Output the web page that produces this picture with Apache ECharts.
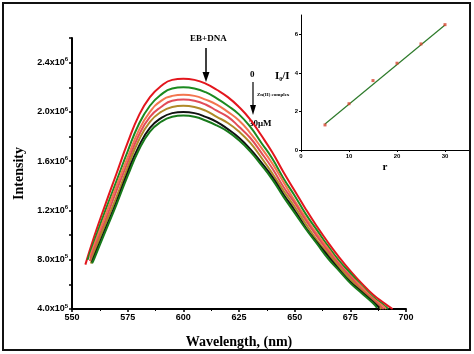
<!DOCTYPE html>
<html>
<head>
<meta charset="utf-8">
<script src="https://cdn.jsdelivr.net/npm/echarts@6/dist/echarts.min.js"></script>
<style>
  html, body { margin: 0; padding: 0; background: #fff; }
  #chart { width: 474px; height: 354px; }
</style>
</head>
<body>
<div id="chart"></div>
<script>
// emission spectra, [wavelength nm, intensity x10^6]
var red = [[556,0.76],[560,0.99],[565,1.25],[570,1.50],[575,1.75],[580,1.97],[585,2.12],[590,2.21],[595,2.26],[600,2.27],[605,2.26],[610,2.23],[615,2.18],[620,2.12],[625,2.04],[630,1.94],[635,1.81],[640,1.67],[645,1.51],[650,1.36],[655,1.21],[660,1.07],[665,0.94],[670,0.82],[675,0.71],[680,0.61],[685,0.52],[690,0.45],[694,0.40]];
var green1 = [[557,0.80],[560,0.95],[565,1.20],[570,1.44],[575,1.68],[580,1.90],[585,2.05],[590,2.14],[595,2.19],[600,2.20],[605,2.19],[610,2.16],[615,2.11],[620,2.05],[625,1.98],[630,1.88],[635,1.75],[640,1.62],[645,1.46],[650,1.32],[655,1.17],[660,1.04],[665,0.91],[670,0.79],[675,0.69],[680,0.59],[685,0.50],[690,0.43],[692,0.40]];
var salmon = [[558,0.82],[560,0.92],[565,1.16],[570,1.40],[575,1.63],[580,1.85],[585,2.00],[590,2.09],[595,2.13],[600,2.14],[605,2.13],[610,2.10],[615,2.06],[620,2.00],[625,1.93],[630,1.83],[635,1.71],[640,1.58],[645,1.43],[650,1.28],[655,1.14],[660,1.01],[665,0.89],[670,0.77],[675,0.67],[680,0.58],[685,0.49],[690,0.42],[691,0.40]];
var pink = [[558,0.79],[560,0.89],[565,1.12],[570,1.36],[575,1.59],[580,1.81],[585,1.96],[590,2.04],[595,2.09],[600,2.10],[605,2.09],[610,2.06],[615,2.01],[620,1.96],[625,1.88],[630,1.79],[635,1.67],[640,1.54],[645,1.39],[650,1.26],[655,1.12],[660,0.99],[665,0.87],[670,0.76],[675,0.66],[680,0.56],[685,0.48],[690,0.40]];
var olive = [[558.5,0.77],[560,0.86],[565,1.09],[570,1.31],[575,1.55],[580,1.77],[585,1.92],[590,2.00],[595,2.04],[600,2.05],[605,2.04],[610,2.01],[615,1.96],[620,1.91],[625,1.84],[630,1.75],[635,1.63],[640,1.50],[645,1.36],[650,1.23],[655,1.09],[660,0.96],[665,0.85],[670,0.74],[675,0.64],[680,0.55],[685,0.47],[689,0.40]];
var black = [[559,0.78],[560,0.83],[565,1.05],[570,1.27],[575,1.51],[580,1.72],[585,1.87],[590,1.95],[595,1.99],[600,2.00],[605,1.99],[610,1.96],[615,1.92],[620,1.86],[625,1.79],[630,1.70],[635,1.59],[640,1.47],[645,1.33],[650,1.20],[655,1.06],[660,0.94],[665,0.83],[670,0.72],[675,0.62],[680,0.54],[685,0.46],[688,0.41]];
var green2 = [[559,0.77],[560,0.81],[565,1.03],[570,1.25],[575,1.48],[580,1.69],[585,1.84],[590,1.92],[595,1.96],[600,1.97],[605,1.96],[610,1.93],[615,1.89],[620,1.84],[625,1.77],[630,1.68],[635,1.57],[640,1.45],[645,1.31],[650,1.18],[655,1.05],[660,0.93],[665,0.81],[670,0.71],[675,0.61],[680,0.53],[685,0.45],[687,0.41]];

// inset: Stern-Volmer plot
var rValues = [5, 10, 15, 20, 25, 30];
var ratioValues = [1.3, 2.4, 3.6, 4.5, 5.5, 6.5];
var fitX = [5, 30];
var fitY = [1.35, 6.48];

var yTickLabels = { 4: '4.0x10', 8: '8.0x10', 12: '1.2x10', 16: '1.6x10', 20: '2.0x10', 24: '2.4x10' };

var chart = echarts.init(document.getElementById('chart'));

function toAbs(arr) {
  return arr.map(function (p) { return [p[0], p[1] * 1e6]; });
}

function spectrum(data, color) {
  return {
    type: 'line',
    xAxisIndex: 0,
    yAxisIndex: 0,
    data: toAbs(data),
    smooth: true,
    showSymbol: false,
    lineStyle: { color: color, width: 2 },
    z: 3
  };
}

var boldLabel = { color: '#000', fontWeight: 'bold', fontFamily: 'Liberation Sans', fontSize: 9 };

chart.setOption({
  animation: false,
  backgroundColor: '#fff',
  grid: [
    { left: 72, right: 68, top: 38, bottom: 42 },
    { left: 301, right: 5, top: 15, bottom: 204 }
  ],
  xAxis: [{
    gridIndex: 0,
    type: 'value',
    min: 550,
    max: 700,
    interval: 25,
    name: 'Wavelength, (nm)',
    nameLocation: 'middle',
    nameGap: 26,
    nameTextStyle: { fontFamily: 'Liberation Serif', fontWeight: 'bold', fontSize: 14, color: '#000' },
    axisLine: { lineStyle: { color: '#000', width: 2 } },
    axisTick: { inside: false, length: 3, lineStyle: { color: '#000', width: 1.5 } },
    minorTick: { show: true, splitNumber: 2, length: 2, lineStyle: { color: '#000' } },
    splitLine: { show: false },
    axisLabel: Object.assign({ margin: 4 }, boldLabel)
  }, {
    gridIndex: 1,
    type: 'value',
    min: 0,
    max: 35,
    interval: 10,
    name: 'r',
    nameLocation: 'middle',
    nameGap: 12,
    nameTextStyle: { fontFamily: 'Liberation Serif', fontWeight: 'bold', fontSize: 11, color: '#000' },
    axisLine: { onZero: false, lineStyle: { color: '#000', width: 1 } },
    axisTick: { length: 2, lineStyle: { color: '#000' } },
    minorTick: { show: true, splitNumber: 2, length: 1, lineStyle: { color: '#000' } },
    splitLine: { show: false },
    axisLabel: { color: '#000', fontWeight: 'bold', fontFamily: 'Liberation Sans', fontSize: 6, margin: 3,
      showMaxLabel: false }
  }],
  yAxis: [{
    gridIndex: 0,
    type: 'value',
    min: 4e5,
    max: 2.6e6,
    interval: 2e5,
    name: 'Intensity',
    nameLocation: 'middle',
    nameGap: 46,
    nameTextStyle: { fontFamily: 'Liberation Serif', fontWeight: 'bold', fontSize: 14, color: '#000' },
    axisLine: { lineStyle: { color: '#000', width: 2 } },
    axisTick: { length: 3, lineStyle: { color: '#000', width: 1.5 } },
    splitLine: { show: false },
    axisLabel: {
      margin: 4,
      formatter: function (v) {
        var k = Math.round(v / 1e5);
        if (!yTickLabels[k]) return '';
        var exp = k >= 12 ? '6' : '5';
        return '{a|' + yTickLabels[k] + '}{s|' + exp + '}';
      },
      rich: {
        a: boldLabel,
        s: { color: '#000', fontWeight: 'bold', fontFamily: 'Liberation Sans', fontSize: 6, verticalAlign: 'top', padding: [0, 0, 6, 0] }
      }
    }
  }, {
    gridIndex: 1,
    type: 'value',
    min: 0,
    max: 7,
    interval: 2,
    axisLine: { lineStyle: { color: '#000', width: 1 } },
    axisTick: { length: 2, lineStyle: { color: '#000' } },
    splitLine: { show: false },
    axisLabel: { color: '#000', fontWeight: 'bold', fontFamily: 'Liberation Sans', fontSize: 6, margin: 3,
      showMaxLabel: false }
  }],
  graphic: [
    { type: 'rect', shape: { x: 3, y: 3, width: 467, height: 347 }, style: { fill: 'none', stroke: '#111', lineWidth: 2 }, z: 10 },
    { type: 'text', left: 190, top: 34, style: { text: 'EB+DNA', fontFamily: 'Liberation Serif', fontWeight: 'bold', fontSize: 9, fill: '#000' } },
    { type: 'line', shape: { x1: 206, y1: 48, x2: 206, y2: 74 }, style: { stroke: '#000', lineWidth: 1.5 } },
    { type: 'polygon', shape: { points: [[202.5, 72], [209.5, 72], [206, 82]] }, style: { fill: '#000' } },
    { type: 'text', left: 250, top: 70, style: { text: '0', fontFamily: 'Liberation Serif', fontWeight: 'bold', fontSize: 9, fill: '#000' } },
    { type: 'line', shape: { x1: 253, y1: 82, x2: 253, y2: 106 }, style: { stroke: '#000', lineWidth: 1.2 } },
    { type: 'polygon', shape: { points: [[250, 105], [256, 105], [253, 115]] }, style: { fill: '#000' } },
    { type: 'text', left: 257, top: 92, style: { text: 'Zn(II) complex', fontFamily: 'Liberation Serif', fontWeight: 'bold', fontSize: 5, fill: '#000' } },
    { type: 'text', left: 249, top: 119, style: { text: '30\u03bcM', fontFamily: 'Liberation Serif', fontWeight: 'bold', fontSize: 9, fill: '#000' } },
    { type: 'text', left: 275, top: 71, style: {
      rich: {
        a: { fontFamily: 'Liberation Serif', fontWeight: 'bold', fontSize: 11, fill: '#000' },
        b: { fontFamily: 'Liberation Serif', fontWeight: 'bold', fontSize: 6, fill: '#000', padding: [6, 0, 0, 0] }
      },
      text: '{a|I}{b|0}{a|/I}'
    } }
  ],
  series: [
    spectrum(red, '#e3161d'),
    spectrum(green1, '#1b8a1f'),
    spectrum(salmon, '#f3764f'),
    spectrum(pink, '#e24c58'),
    spectrum(olive, '#b08a28'),
    spectrum(black, '#111111'),
    spectrum(green2, '#177a1b'),
    {
      type: 'line',
      xAxisIndex: 1,
      yAxisIndex: 1,
      data: fitX.map(function (x, i) { return [x, fitY[i]]; }),
      showSymbol: false,
      lineStyle: { color: '#2d7a2a', width: 1.2 }
    },
    {
      type: 'scatter',
      xAxisIndex: 1,
      yAxisIndex: 1,
      data: rValues.map(function (x, i) { return [x, ratioValues[i]]; }),
      symbol: 'rect',
      symbolSize: 3,
      itemStyle: { color: '#d8452f' },
      z: 4
    }
  ]
});
</script>
</body>
</html>
